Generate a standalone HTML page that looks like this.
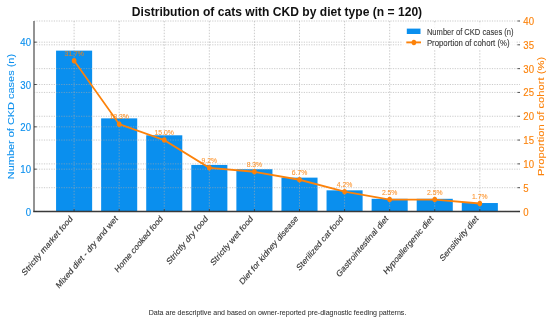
<!DOCTYPE html><html><head><meta charset="utf-8"><style>html,body{margin:0;padding:0;background:#fff;overflow:hidden}svg{display:block;filter:blur(0.3px);font-family:"Liberation Sans",sans-serif;}</style></head><body>
<svg width="550" height="325" viewBox="0 0 550 325">
<rect width="550" height="325" fill="#fff"/>
<g transform="scale(0.55,0.65)">
<rect x="101.94" y="77.90" width="65.58" height="247.49" fill="#0A8FEE"/>
<rect x="183.90" y="182.10" width="65.58" height="143.28" fill="#0A8FEE"/>
<rect x="265.86" y="208.15" width="65.58" height="117.23" fill="#0A8FEE"/>
<rect x="347.83" y="253.74" width="65.58" height="71.64" fill="#0A8FEE"/>
<rect x="429.79" y="260.26" width="65.58" height="65.13" fill="#0A8FEE"/>
<rect x="511.75" y="273.28" width="65.58" height="52.10" fill="#0A8FEE"/>
<rect x="593.72" y="292.82" width="65.58" height="32.56" fill="#0A8FEE"/>
<rect x="675.68" y="305.85" width="65.58" height="19.54" fill="#0A8FEE"/>
<rect x="757.65" y="305.85" width="65.58" height="19.54" fill="#0A8FEE"/>
<rect x="839.61" y="312.36" width="65.58" height="13.03" fill="#0A8FEE"/>
<path d="M134.73 32.31V325.38M216.69 32.31V325.38M298.65 32.31V325.38M380.62 32.31V325.38M462.58 32.31V325.38M544.55 32.31V325.38M626.51 32.31V325.38M708.47 32.31V325.38M790.44 32.31V325.38M872.40 32.31V325.38M61.82 325.38H945.45M61.82 260.26H945.45M61.82 195.13H945.45M61.82 130.00H945.45M61.82 64.87H945.45M61.82 325.38H945.45M61.82 288.75H945.45M61.82 252.12H945.45M61.82 215.48H945.45M61.82 178.85H945.45M61.82 142.21H945.45M61.82 105.58H945.45M61.82 68.94H945.45M61.82 32.31H945.45" stroke="#a8a8a8" stroke-width="1.4" stroke-dasharray="2.2 2.3" fill="none" opacity="0.7"/>
<path d="M61.82 32.31V325.38" stroke="#787878" stroke-width="2.9" fill="none"/>
<path d="M60.32 325.38H945.45" stroke="#3a3a3a" stroke-width="2.2" fill="none"/>
<path d="M61.82 325.38h5M61.82 260.26h5M61.82 195.13h5M61.82 130.00h5M61.82 64.87h5M945.45 325.38h-4.5M945.45 288.75h-4.5M945.45 252.12h-4.5M945.45 215.48h-4.5M945.45 178.85h-4.5M945.45 142.21h-4.5M945.45 105.58h-4.5M945.45 68.94h-4.5M945.45 32.31h-4.5M134.73 325.38v-4M216.69 325.38v-4M298.65 325.38v-4M380.62 325.38v-4M462.58 325.38v-4M544.55 325.38v-4M626.51 325.38v-4M708.47 325.38v-4M790.44 325.38v-4M872.40 325.38v-4" stroke="#333" stroke-width="1.4" fill="none"/>
<polyline points="134.73,93.37 216.69,191.06 298.65,215.48 380.62,258.22 462.58,264.33 544.55,276.54 626.51,294.86 708.47,307.07 790.44,307.07 872.40,313.17" stroke="#FC820A" stroke-width="2.9" fill="none" stroke-linejoin="round" stroke-linecap="butt"/>
<circle cx="134.73" cy="93.37" r="4.2" fill="#FC820A"/>
<circle cx="216.69" cy="191.06" r="4.2" fill="#FC820A"/>
<circle cx="298.65" cy="215.48" r="4.2" fill="#FC820A"/>
<circle cx="380.62" cy="258.22" r="4.2" fill="#FC820A"/>
<circle cx="462.58" cy="264.33" r="4.2" fill="#FC820A"/>
<circle cx="544.55" cy="276.54" r="4.2" fill="#FC820A"/>
<circle cx="626.51" cy="294.86" r="4.2" fill="#FC820A"/>
<circle cx="708.47" cy="307.07" r="4.2" fill="#FC820A"/>
<circle cx="790.44" cy="307.07" r="4.2" fill="#FC820A"/>
<circle cx="872.40" cy="313.17" r="4.2" fill="#FC820A"/>
<text x="134.73" y="86.13" font-size="12.21" fill="#FC820A" text-anchor="middle" textLength="35.26" lengthAdjust="spacingAndGlyphs" stroke-width="0.2" stroke="#FC820A" opacity="0.82">31.7%</text>
<text x="216.69" y="183.83" font-size="12.21" fill="#FC820A" text-anchor="middle" textLength="35.26" lengthAdjust="spacingAndGlyphs" stroke-width="0.2" stroke="#FC820A" opacity="0.82">18.3%</text>
<text x="298.65" y="208.25" font-size="12.21" fill="#FC820A" text-anchor="middle" textLength="35.26" lengthAdjust="spacingAndGlyphs" stroke-width="0.2" stroke="#FC820A" opacity="0.82">15.0%</text>
<text x="380.62" y="250.99" font-size="12.21" fill="#FC820A" text-anchor="middle" textLength="28.20" lengthAdjust="spacingAndGlyphs" stroke-width="0.2" stroke="#FC820A" opacity="0.82">9.2%</text>
<text x="462.58" y="257.10" font-size="12.21" fill="#FC820A" text-anchor="middle" textLength="28.20" lengthAdjust="spacingAndGlyphs" stroke-width="0.2" stroke="#FC820A" opacity="0.82">8.3%</text>
<text x="544.55" y="269.31" font-size="12.21" fill="#FC820A" text-anchor="middle" textLength="28.20" lengthAdjust="spacingAndGlyphs" stroke-width="0.2" stroke="#FC820A" opacity="0.82">6.7%</text>
<text x="626.51" y="287.62" font-size="12.21" fill="#FC820A" text-anchor="middle" textLength="28.20" lengthAdjust="spacingAndGlyphs" stroke-width="0.2" stroke="#FC820A" opacity="0.82">4.2%</text>
<text x="708.47" y="299.84" font-size="12.21" fill="#FC820A" text-anchor="middle" textLength="28.20" lengthAdjust="spacingAndGlyphs" stroke-width="0.2" stroke="#FC820A" opacity="0.82">2.5%</text>
<text x="790.44" y="299.84" font-size="12.21" fill="#FC820A" text-anchor="middle" textLength="28.20" lengthAdjust="spacingAndGlyphs" stroke-width="0.2" stroke="#FC820A" opacity="0.82">2.5%</text>
<text x="872.40" y="305.94" font-size="12.21" fill="#FC820A" text-anchor="middle" textLength="28.20" lengthAdjust="spacingAndGlyphs" stroke-width="0.2" stroke="#FC820A" opacity="0.82">1.7%</text>
<text x="56.36" y="331.58" font-size="16.83" fill="#0A8FEE" text-anchor="end" textLength="9.73" lengthAdjust="spacingAndGlyphs" stroke="#0A8FEE" stroke-width="0.2">0</text>
<text x="56.36" y="266.46" font-size="16.83" fill="#0A8FEE" text-anchor="end" textLength="19.47" lengthAdjust="spacingAndGlyphs" stroke="#0A8FEE" stroke-width="0.2">10</text>
<text x="56.36" y="201.33" font-size="16.83" fill="#0A8FEE" text-anchor="end" textLength="19.47" lengthAdjust="spacingAndGlyphs" stroke="#0A8FEE" stroke-width="0.2">20</text>
<text x="56.36" y="136.20" font-size="16.83" fill="#0A8FEE" text-anchor="end" textLength="19.47" lengthAdjust="spacingAndGlyphs" stroke="#0A8FEE" stroke-width="0.2">30</text>
<text x="56.36" y="71.07" font-size="16.83" fill="#0A8FEE" text-anchor="end" textLength="19.47" lengthAdjust="spacingAndGlyphs" stroke="#0A8FEE" stroke-width="0.2">40</text>
<text x="951.45" y="331.58" font-size="16.83" fill="#FC820A" textLength="9.73" lengthAdjust="spacingAndGlyphs" stroke="#FC820A" stroke-width="0.2">0</text>
<text x="951.45" y="294.95" font-size="16.83" fill="#FC820A" textLength="9.73" lengthAdjust="spacingAndGlyphs" stroke="#FC820A" stroke-width="0.2">5</text>
<text x="951.45" y="258.32" font-size="16.83" fill="#FC820A" textLength="19.47" lengthAdjust="spacingAndGlyphs" stroke="#FC820A" stroke-width="0.2">10</text>
<text x="951.45" y="221.68" font-size="16.83" fill="#FC820A" textLength="19.47" lengthAdjust="spacingAndGlyphs" stroke="#FC820A" stroke-width="0.2">15</text>
<text x="951.45" y="185.05" font-size="16.83" fill="#FC820A" textLength="19.47" lengthAdjust="spacingAndGlyphs" stroke="#FC820A" stroke-width="0.2">20</text>
<text x="951.45" y="148.41" font-size="16.83" fill="#FC820A" textLength="19.47" lengthAdjust="spacingAndGlyphs" stroke="#FC820A" stroke-width="0.2">25</text>
<text x="951.45" y="111.78" font-size="16.83" fill="#FC820A" textLength="19.47" lengthAdjust="spacingAndGlyphs" stroke="#FC820A" stroke-width="0.2">30</text>
<text x="951.45" y="75.14" font-size="16.83" fill="#FC820A" textLength="19.47" lengthAdjust="spacingAndGlyphs" stroke="#FC820A" stroke-width="0.2">35</text>
<text x="951.45" y="38.51" font-size="16.83" fill="#FC820A" textLength="19.47" lengthAdjust="spacingAndGlyphs" stroke="#FC820A" stroke-width="0.2">40</text>
<text transform="translate(132.91,337.23) rotate(-45)" font-size="13.75" fill="#383838" text-anchor="end" textLength="124.03" lengthAdjust="spacingAndGlyphs" stroke="#383838" stroke-width="0.28">Strictly market food</text>
<text transform="translate(214.87,337.23) rotate(-45)" font-size="13.75" fill="#383838" text-anchor="end" textLength="152.08" lengthAdjust="spacingAndGlyphs" stroke="#383838" stroke-width="0.28">Mixed diet - dry and wet</text>
<text transform="translate(296.84,337.23) rotate(-45)" font-size="13.75" fill="#383838" text-anchor="end" textLength="117.08" lengthAdjust="spacingAndGlyphs" stroke="#383838" stroke-width="0.28">Home cooked food</text>
<text transform="translate(378.80,337.23) rotate(-45)" font-size="13.75" fill="#383838" text-anchor="end" textLength="100.14" lengthAdjust="spacingAndGlyphs" stroke="#383838" stroke-width="0.28">Strictly dry food</text>
<text transform="translate(460.76,337.23) rotate(-45)" font-size="13.75" fill="#383838" text-anchor="end" textLength="102.48" lengthAdjust="spacingAndGlyphs" stroke="#383838" stroke-width="0.28">Strictly wet food</text>
<text transform="translate(542.73,337.23) rotate(-45)" font-size="13.75" fill="#383838" text-anchor="end" textLength="143.93" lengthAdjust="spacingAndGlyphs" stroke="#383838" stroke-width="0.28">Diet for kidney disease</text>
<text transform="translate(624.69,337.23) rotate(-45)" font-size="13.75" fill="#383838" text-anchor="end" textLength="113.28" lengthAdjust="spacingAndGlyphs" stroke="#383838" stroke-width="0.28">Sterilized cat food</text>
<text transform="translate(706.65,337.23) rotate(-45)" font-size="13.75" fill="#383838" text-anchor="end" textLength="127.17" lengthAdjust="spacingAndGlyphs" stroke="#383838" stroke-width="0.28">Gastrointestinal diet</text>
<text transform="translate(788.62,337.23) rotate(-45)" font-size="13.75" fill="#383838" text-anchor="end" textLength="121.46" lengthAdjust="spacingAndGlyphs" stroke="#383838" stroke-width="0.28">Hypoallergenic diet</text>
<text transform="translate(870.58,337.23) rotate(-45)" font-size="13.75" fill="#383838" text-anchor="end" textLength="93.05" lengthAdjust="spacingAndGlyphs" stroke="#383838" stroke-width="0.28">Sensitivity diet</text>
<text transform="translate(25.82,179.38) rotate(-90)" font-size="16.81" fill="#0A8FEE" text-anchor="middle" textLength="192.69" lengthAdjust="spacingAndGlyphs" stroke="#0A8FEE" stroke-width="0.12">Number of CKD cases (n)</text>
<text transform="translate(989.45,179.08) rotate(-90)" font-size="16.81" fill="#FC820A" text-anchor="middle" textLength="183.64" lengthAdjust="spacingAndGlyphs" stroke="#FC820A" stroke-width="0.12">Proportion of cohort (%)</text>
<text x="503.64" y="24.31" font-size="19.93" fill="#111" text-anchor="middle" font-weight="bold" textLength="527.78" lengthAdjust="spacingAndGlyphs">Distribution of cats with CKD by diet type (n = 120)</text>
<rect x="730.91" y="36.92" width="207.27" height="38.46" fill="#fff" opacity="0.8"/>
<rect x="739.64" y="44.00" width="24.91" height="8.31" fill="#0A8FEE"/>
<path d="M738.73 65.23H765.45" stroke="#FC820A" stroke-width="2.9"/><circle cx="752.55" cy="65.23" r="4.2" fill="#FC820A"/>
<text x="776.18" y="53.85" font-size="13.75" fill="#333" textLength="157.63" lengthAdjust="spacingAndGlyphs" stroke="#333" stroke-width="0.12">Number of CKD cases (n)</text>
<text x="776.18" y="70.62" font-size="13.75" fill="#333" textLength="150.23" lengthAdjust="spacingAndGlyphs" stroke="#333" stroke-width="0.12">Proportion of cohort (%)</text>
<text x="504.55" y="484.31" font-size="12.38" fill="#333" text-anchor="middle" textLength="468.53" lengthAdjust="spacingAndGlyphs" stroke="#333" stroke-width="0.1">Data are descriptive and based on owner-reported pre-diagnostic feeding patterns.</text>
</g></svg></body></html>
